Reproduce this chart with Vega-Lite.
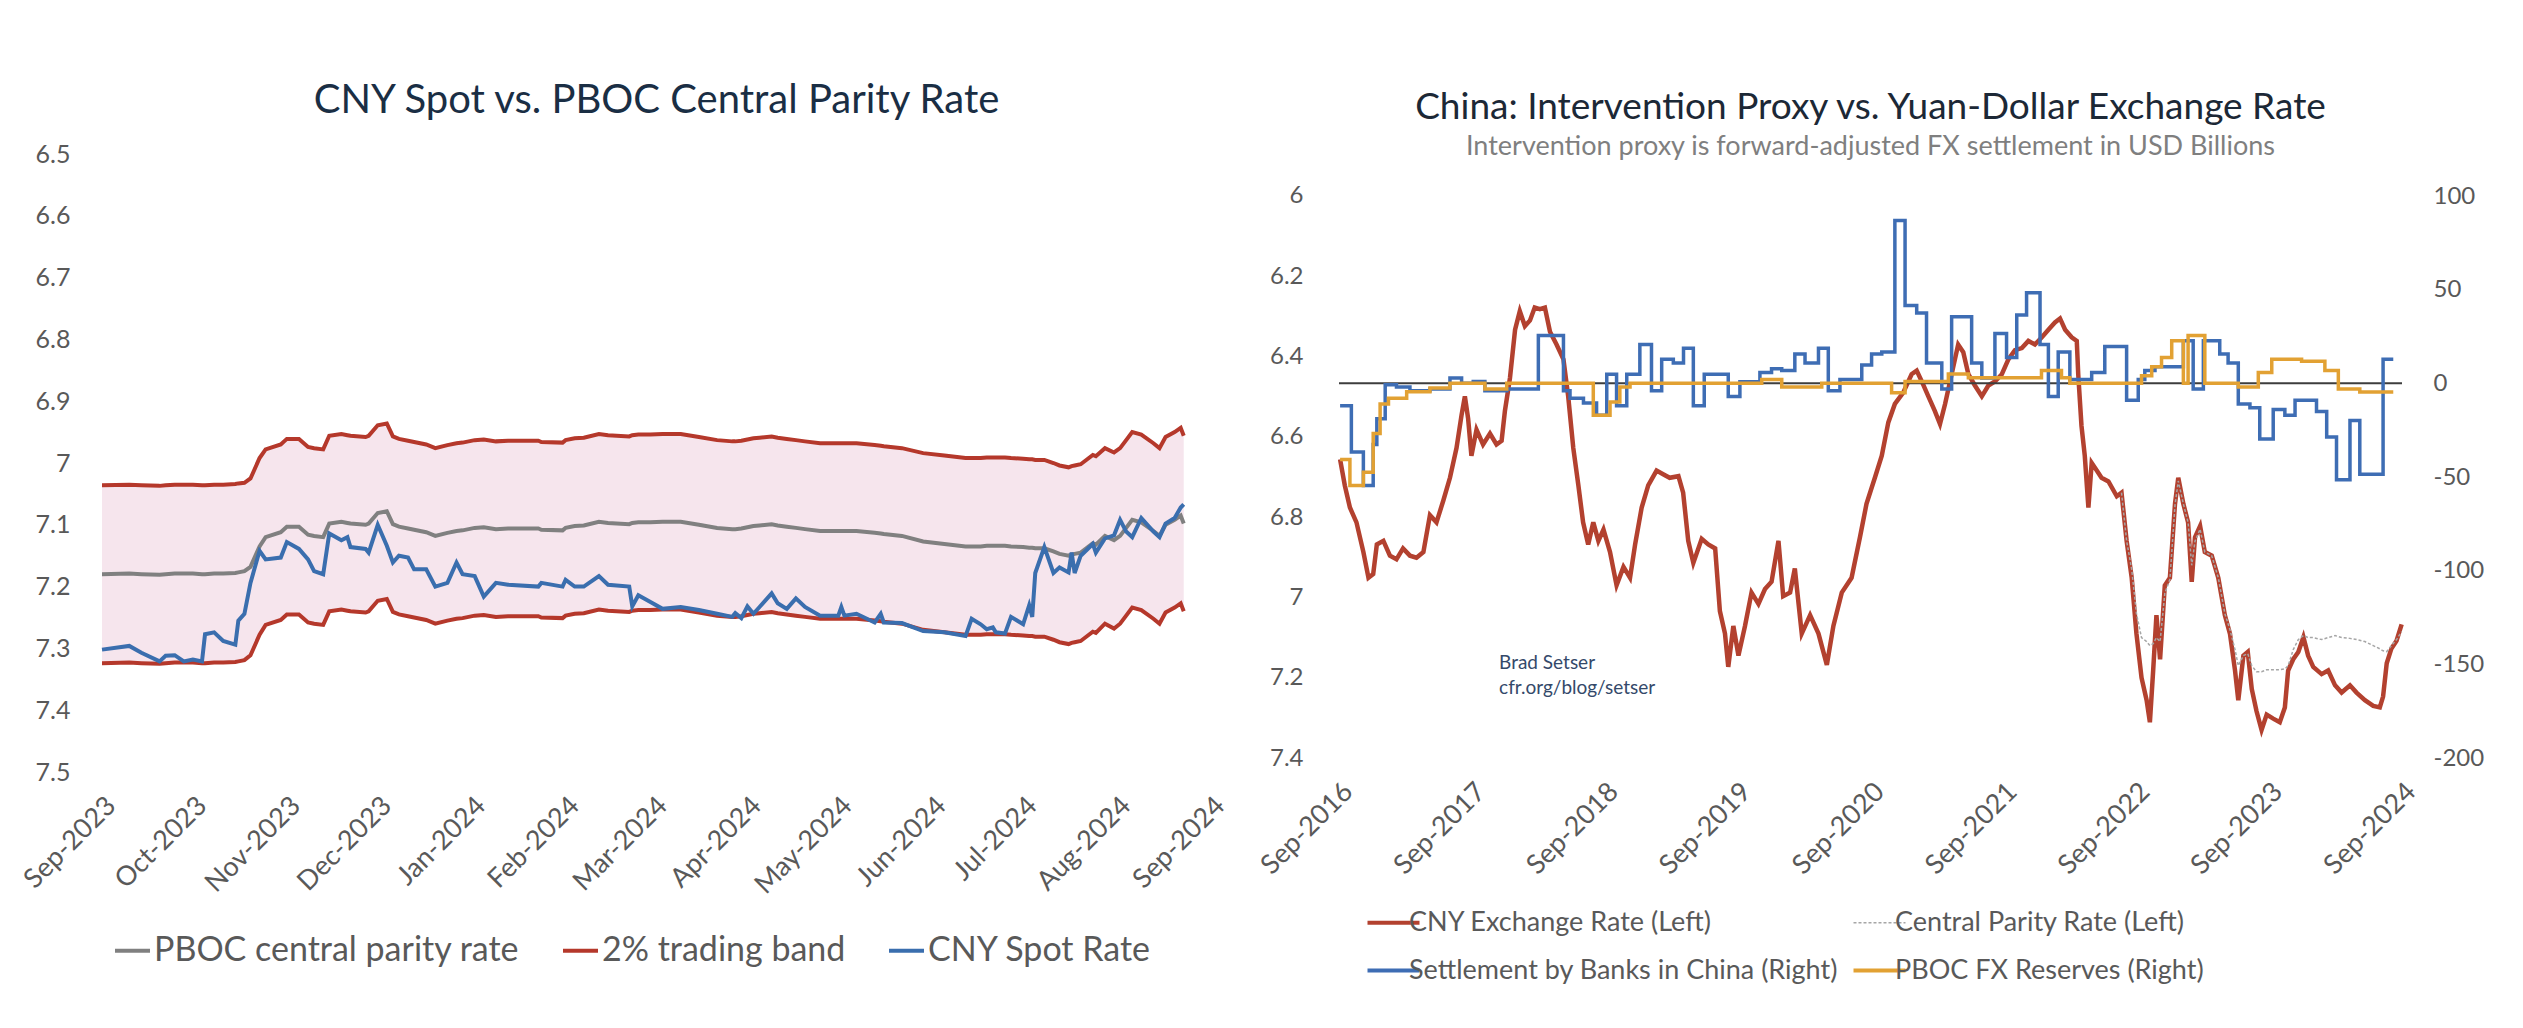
{
  "$schema": "https://vega.github.io/schema/vega-lite/v6.json",
  "background": "white",
  "padding": {"left": 18, "top": 81, "right": 10, "bottom": 10},
  "autosize": {"type": "pad"},
  "config": {
    "view": {"stroke": null},
    "font": "Lato",
    "axis": {"grid": false, "domain": false, "ticks": false, "labelFont": "Lato", "labelColor": "#595959", "titleColor": "#595959"},
    "legend": {"labelFont": "Lato", "labelColor": "#595959", "labelLimit": 0},
    "title": {"font": "Lato", "subtitleFont": "Lato", "anchor": "middle", "fontWeight": "normal"}
  },
  "spacing": 128,
  "bounds": "flush",
  "resolve": {"scale": {"color": "independent"}, "legend": {"color": "independent"}},
  "hconcat": [
    {
      "width": 1109,
      "height": 618,
      "title": {"text": "CNY Spot vs. PBOC Central Parity Rate", "fontSize": 40, "color": "#1a2e44", "offset": 21},
      "data": {"values": [
        {"date": "2023-09-01", "parity": 7.180, "spot": 7.302, "upper": 7.036, "lower": 7.324},
        {"date": "2023-09-10", "parity": 7.179, "spot": 7.296, "upper": 7.035, "lower": 7.323},
        {"date": "2023-09-14", "parity": 7.180, "spot": 7.307, "upper": 7.036, "lower": 7.324},
        {"date": "2023-09-20", "parity": 7.181, "spot": 7.321, "upper": 7.037, "lower": 7.325},
        {"date": "2023-09-22", "parity": 7.180, "spot": 7.312, "upper": 7.036, "lower": 7.324},
        {"date": "2023-09-25", "parity": 7.179, "spot": 7.311, "upper": 7.035, "lower": 7.323},
        {"date": "2023-09-28", "parity": 7.179, "spot": 7.321, "upper": 7.035, "lower": 7.323},
        {"date": "2023-10-01", "parity": 7.179, "spot": 7.318, "upper": 7.035, "lower": 7.323},
        {"date": "2023-10-04", "parity": 7.180, "spot": 7.321, "upper": 7.036, "lower": 7.324},
        {"date": "2023-10-05", "parity": 7.180, "spot": 7.277, "upper": 7.036, "lower": 7.324},
        {"date": "2023-10-08", "parity": 7.179, "spot": 7.274, "upper": 7.035, "lower": 7.323},
        {"date": "2023-10-11", "parity": 7.179, "spot": 7.288, "upper": 7.035, "lower": 7.323},
        {"date": "2023-10-15", "parity": 7.178, "spot": 7.294, "upper": 7.034, "lower": 7.322},
        {"date": "2023-10-16", "parity": 7.177, "spot": 7.255, "upper": 7.033, "lower": 7.321},
        {"date": "2023-10-18", "parity": 7.175, "spot": 7.244, "upper": 7.032, "lower": 7.319},
        {"date": "2023-10-20", "parity": 7.168, "spot": 7.194, "upper": 7.025, "lower": 7.311},
        {"date": "2023-10-23", "parity": 7.135, "spot": 7.142, "upper": 6.992, "lower": 7.278},
        {"date": "2023-10-25", "parity": 7.120, "spot": 7.156, "upper": 6.978, "lower": 7.262},
        {"date": "2023-10-30", "parity": 7.112, "spot": 7.153, "upper": 6.970, "lower": 7.254},
        {"date": "2023-11-01", "parity": 7.103, "spot": 7.128, "upper": 6.961, "lower": 7.245},
        {"date": "2023-11-05", "parity": 7.103, "spot": 7.139, "upper": 6.961, "lower": 7.245},
        {"date": "2023-11-08", "parity": 7.116, "spot": 7.156, "upper": 6.974, "lower": 7.258},
        {"date": "2023-11-10", "parity": 7.118, "spot": 7.175, "upper": 6.976, "lower": 7.260},
        {"date": "2023-11-13", "parity": 7.120, "spot": 7.180, "upper": 6.978, "lower": 7.262},
        {"date": "2023-11-15", "parity": 7.098, "spot": 7.114, "upper": 6.956, "lower": 7.240},
        {"date": "2023-11-19", "parity": 7.095, "spot": 7.125, "upper": 6.953, "lower": 7.237},
        {"date": "2023-11-21", "parity": 7.097, "spot": 7.120, "upper": 6.955, "lower": 7.239},
        {"date": "2023-11-22", "parity": 7.098, "spot": 7.136, "upper": 6.956, "lower": 7.240},
        {"date": "2023-11-27", "parity": 7.100, "spot": 7.139, "upper": 6.958, "lower": 7.242},
        {"date": "2023-11-28", "parity": 7.098, "spot": 7.145, "upper": 6.956, "lower": 7.240},
        {"date": "2023-12-01", "parity": 7.081, "spot": 7.100, "upper": 6.939, "lower": 7.223},
        {"date": "2023-12-04", "parity": 7.078, "spot": 7.134, "upper": 6.936, "lower": 7.220},
        {"date": "2023-12-06", "parity": 7.099, "spot": 7.161, "upper": 6.957, "lower": 7.241},
        {"date": "2023-12-08", "parity": 7.103, "spot": 7.150, "upper": 6.961, "lower": 7.245},
        {"date": "2023-12-11", "parity": 7.106, "spot": 7.153, "upper": 6.964, "lower": 7.248},
        {"date": "2023-12-13", "parity": 7.108, "spot": 7.172, "upper": 6.966, "lower": 7.250},
        {"date": "2023-12-17", "parity": 7.112, "spot": 7.172, "upper": 6.970, "lower": 7.254},
        {"date": "2023-12-20", "parity": 7.118, "spot": 7.200, "upper": 6.976, "lower": 7.260},
        {"date": "2023-12-24", "parity": 7.113, "spot": 7.194, "upper": 6.971, "lower": 7.255},
        {"date": "2023-12-27", "parity": 7.110, "spot": 7.161, "upper": 6.968, "lower": 7.252},
        {"date": "2023-12-29", "parity": 7.109, "spot": 7.180, "upper": 6.967, "lower": 7.251},
        {"date": "2024-01-02", "parity": 7.105, "spot": 7.183, "upper": 6.963, "lower": 7.247},
        {"date": "2024-01-05", "parity": 7.104, "spot": 7.216, "upper": 6.962, "lower": 7.246},
        {"date": "2024-01-09", "parity": 7.107, "spot": 7.194, "upper": 6.965, "lower": 7.249},
        {"date": "2024-01-13", "parity": 7.106, "spot": 7.197, "upper": 6.964, "lower": 7.248},
        {"date": "2024-01-23", "parity": 7.106, "spot": 7.200, "upper": 6.964, "lower": 7.248},
        {"date": "2024-01-24", "parity": 7.108, "spot": 7.194, "upper": 6.966, "lower": 7.250},
        {"date": "2024-01-31", "parity": 7.109, "spot": 7.200, "upper": 6.967, "lower": 7.251},
        {"date": "2024-02-01", "parity": 7.105, "spot": 7.189, "upper": 6.963, "lower": 7.247},
        {"date": "2024-02-04", "parity": 7.102, "spot": 7.200, "upper": 6.960, "lower": 7.244},
        {"date": "2024-02-07", "parity": 7.101, "spot": 7.200, "upper": 6.959, "lower": 7.243},
        {"date": "2024-02-12", "parity": 7.095, "spot": 7.183, "upper": 6.953, "lower": 7.237},
        {"date": "2024-02-15", "parity": 7.097, "spot": 7.197, "upper": 6.955, "lower": 7.239},
        {"date": "2024-02-22", "parity": 7.099, "spot": 7.200, "upper": 6.957, "lower": 7.241},
        {"date": "2024-02-23", "parity": 7.097, "spot": 7.232, "upper": 6.955, "lower": 7.239},
        {"date": "2024-02-25", "parity": 7.096, "spot": 7.214, "upper": 6.954, "lower": 7.238},
        {"date": "2024-02-29", "parity": 7.096, "spot": 7.225, "upper": 6.954, "lower": 7.238},
        {"date": "2024-03-04", "parity": 7.095, "spot": 7.236, "upper": 6.953, "lower": 7.237},
        {"date": "2024-03-10", "parity": 7.095, "spot": 7.233, "upper": 6.953, "lower": 7.237},
        {"date": "2024-03-16", "parity": 7.100, "spot": 7.238, "upper": 6.958, "lower": 7.242},
        {"date": "2024-03-22", "parity": 7.105, "spot": 7.244, "upper": 6.963, "lower": 7.247},
        {"date": "2024-03-27", "parity": 7.107, "spot": 7.249, "upper": 6.965, "lower": 7.249},
        {"date": "2024-03-28", "parity": 7.107, "spot": 7.243, "upper": 6.965, "lower": 7.249},
        {"date": "2024-03-30", "parity": 7.106, "spot": 7.251, "upper": 6.964, "lower": 7.248},
        {"date": "2024-04-01", "parity": 7.104, "spot": 7.232, "upper": 6.962, "lower": 7.246},
        {"date": "2024-04-03", "parity": 7.102, "spot": 7.244, "upper": 6.960, "lower": 7.244},
        {"date": "2024-04-05", "parity": 7.101, "spot": 7.233, "upper": 6.959, "lower": 7.243},
        {"date": "2024-04-09", "parity": 7.099, "spot": 7.211, "upper": 6.957, "lower": 7.241},
        {"date": "2024-04-11", "parity": 7.101, "spot": 7.227, "upper": 6.959, "lower": 7.243},
        {"date": "2024-04-14", "parity": 7.103, "spot": 7.236, "upper": 6.961, "lower": 7.245},
        {"date": "2024-04-17", "parity": 7.105, "spot": 7.219, "upper": 6.963, "lower": 7.247},
        {"date": "2024-04-20", "parity": 7.107, "spot": 7.233, "upper": 6.965, "lower": 7.249},
        {"date": "2024-04-25", "parity": 7.110, "spot": 7.247, "upper": 6.968, "lower": 7.252},
        {"date": "2024-05-01", "parity": 7.110, "spot": 7.247, "upper": 6.968, "lower": 7.252},
        {"date": "2024-05-02", "parity": 7.110, "spot": 7.233, "upper": 6.968, "lower": 7.252},
        {"date": "2024-05-03", "parity": 7.110, "spot": 7.247, "upper": 6.968, "lower": 7.252},
        {"date": "2024-05-07", "parity": 7.110, "spot": 7.244, "upper": 6.968, "lower": 7.252},
        {"date": "2024-05-13", "parity": 7.113, "spot": 7.258, "upper": 6.971, "lower": 7.255},
        {"date": "2024-05-15", "parity": 7.114, "spot": 7.244, "upper": 6.972, "lower": 7.256},
        {"date": "2024-05-16", "parity": 7.115, "spot": 7.258, "upper": 6.973, "lower": 7.257},
        {"date": "2024-05-22", "parity": 7.118, "spot": 7.259, "upper": 6.976, "lower": 7.260},
        {"date": "2024-05-29", "parity": 7.127, "spot": 7.272, "upper": 6.984, "lower": 7.270},
        {"date": "2024-06-05", "parity": 7.131, "spot": 7.274, "upper": 6.988, "lower": 7.274},
        {"date": "2024-06-12", "parity": 7.135, "spot": 7.280, "upper": 6.992, "lower": 7.278},
        {"date": "2024-06-14", "parity": 7.135, "spot": 7.252, "upper": 6.992, "lower": 7.278},
        {"date": "2024-06-17", "parity": 7.135, "spot": 7.261, "upper": 6.992, "lower": 7.278},
        {"date": "2024-06-19", "parity": 7.134, "spot": 7.269, "upper": 6.991, "lower": 7.277},
        {"date": "2024-06-21", "parity": 7.134, "spot": 7.266, "upper": 6.991, "lower": 7.277},
        {"date": "2024-06-22", "parity": 7.134, "spot": 7.274, "upper": 6.991, "lower": 7.277},
        {"date": "2024-06-25", "parity": 7.134, "spot": 7.276, "upper": 6.991, "lower": 7.277},
        {"date": "2024-06-27", "parity": 7.135, "spot": 7.249, "upper": 6.992, "lower": 7.278},
        {"date": "2024-07-01", "parity": 7.136, "spot": 7.261, "upper": 6.993, "lower": 7.279},
        {"date": "2024-07-03", "parity": 7.137, "spot": 7.230, "upper": 6.994, "lower": 7.280},
        {"date": "2024-07-04", "parity": 7.137, "spot": 7.249, "upper": 6.994, "lower": 7.280},
        {"date": "2024-07-05", "parity": 7.138, "spot": 7.178, "upper": 6.995, "lower": 7.281},
        {"date": "2024-07-08", "parity": 7.138, "spot": 7.136, "upper": 6.995, "lower": 7.281},
        {"date": "2024-07-11", "parity": 7.143, "spot": 7.178, "upper": 7.000, "lower": 7.286},
        {"date": "2024-07-13", "parity": 7.147, "spot": 7.169, "upper": 7.004, "lower": 7.290},
        {"date": "2024-07-16", "parity": 7.150, "spot": 7.177, "upper": 7.007, "lower": 7.293},
        {"date": "2024-07-17", "parity": 7.148, "spot": 7.145, "upper": 7.005, "lower": 7.291},
        {"date": "2024-07-18", "parity": 7.147, "spot": 7.178, "upper": 7.004, "lower": 7.290},
        {"date": "2024-07-20", "parity": 7.145, "spot": 7.150, "upper": 7.002, "lower": 7.288},
        {"date": "2024-07-24", "parity": 7.130, "spot": 7.131, "upper": 6.987, "lower": 7.273},
        {"date": "2024-07-25", "parity": 7.132, "spot": 7.145, "upper": 6.989, "lower": 7.275},
        {"date": "2024-07-28", "parity": 7.118, "spot": 7.122, "upper": 6.976, "lower": 7.260},
        {"date": "2024-07-31", "parity": 7.125, "spot": 7.117, "upper": 6.983, "lower": 7.268},
        {"date": "2024-08-02", "parity": 7.118, "spot": 7.092, "upper": 6.976, "lower": 7.260},
        {"date": "2024-08-04", "parity": 7.105, "spot": 7.111, "upper": 6.963, "lower": 7.247},
        {"date": "2024-08-06", "parity": 7.092, "spot": 7.120, "upper": 6.950, "lower": 7.234},
        {"date": "2024-08-09", "parity": 7.096, "spot": 7.089, "upper": 6.954, "lower": 7.238},
        {"date": "2024-08-13", "parity": 7.110, "spot": 7.111, "upper": 6.968, "lower": 7.252},
        {"date": "2024-08-15", "parity": 7.118, "spot": 7.120, "upper": 6.976, "lower": 7.260},
        {"date": "2024-08-17", "parity": 7.100, "spot": 7.098, "upper": 6.958, "lower": 7.242},
        {"date": "2024-08-20", "parity": 7.092, "spot": 7.089, "upper": 6.950, "lower": 7.234},
        {"date": "2024-08-22", "parity": 7.085, "spot": 7.072, "upper": 6.943, "lower": 7.227},
        {"date": "2024-08-23", "parity": 7.098, "spot": 7.067, "upper": 6.956, "lower": 7.240}
      ]},
      "encoding": {
        "x": {
          "field": "date", "type": "temporal",
          "scale": {"domain": [{"year": 2023, "month": 9, "date": 1}, {"year": 2024, "month": 9, "date": 1}]},
          "axis": {"title": null, "format": "%b-%Y", "labelAngle": -45, "labelAlign": "right", "labelBaseline": "top", "labelFontSize": 27, "labelPadding": 20, "tickCount": {"interval": "month", "step": 1}, "labelOverlap": false, "labelBound": false, "labelFlush": false}
        }
      },
      "layer": [
        {
          "mark": {"type": "area", "color": "#f6e5ed"},
          "encoding": {
            "y": {"field": "upper", "type": "quantitative", "scale": {"domain": [6.5, 7.5], "reverse": true, "nice": false, "zero": false},
              "axis": {"title": null, "values": [6.5, 6.6, 6.7, 6.8, 6.9, 7.0, 7.1, 7.2, 7.3, 7.4, 7.5], "format": ".1~f", "labelFontSize": 25, "labelPadding": 32}},
            "y2": {"field": "lower"}
          }
        },
        {
          "mark": {"type": "line", "strokeWidth": 4},
          "encoding": {
            "y": {"field": "parity", "type": "quantitative", "axis": {"title": null}},
            "color": {"datum": "PBOC central parity rate",
              "scale": {"domain": ["PBOC central parity rate", "2% trading band", "CNY Spot Rate"], "range": ["#808080", "#b5382b", "#3a6eae"]},
              "legend": {"title": null, "orient": "none", "legendX": 11, "legendY": 777, "direction": "horizontal", "symbolType": "stroke", "symbolSize": 1225, "symbolStrokeWidth": 4, "labelFontSize": 34, "labelOffset": 2, "columnPadding": 35, "padding": 0, "labelLimit": 0}}
          }
        },
        {
          "mark": {"type": "line", "strokeWidth": 4},
          "encoding": {
            "y": {"field": "upper", "type": "quantitative", "axis": {"title": null}},
            "color": {"datum": "2% trading band"}
          }
        },
        {
          "mark": {"type": "line", "strokeWidth": 4},
          "encoding": {
            "y": {"field": "lower", "type": "quantitative", "axis": {"title": null}},
            "color": {"datum": "2% trading band"}
          }
        },
        {
          "mark": {"type": "line", "strokeWidth": 4},
          "encoding": {
            "y": {"field": "spot", "type": "quantitative", "axis": {"title": null}},
            "color": {"datum": "CNY Spot Rate"}
          }
        }
      ]
    },
    {
      "width": 1063,
      "height": 604,
      "title": {"text": "China: Intervention Proxy vs. Yuan-Dollar Exchange Rate", "subtitle": "Intervention proxy is forward-adjusted FX settlement in USD Billions", "fontSize": 37, "subtitleFontSize": 27, "color": "#1c2836", "subtitleColor": "#7f7f7f", "subtitlePadding": 7, "offset": -7},
      "layer": [
        {
          "layer": [
            {
              "data": {"values": [
                {"date": "2016-09-04", "rate": 6.656}, {"date": "2016-09-17", "rate": 6.721}, {"date": "2016-10-01", "rate": 6.776}, {"date": "2016-10-19", "rate": 6.813},
                {"date": "2016-11-07", "rate": 6.887}, {"date": "2016-11-21", "rate": 6.951}, {"date": "2016-12-04", "rate": 6.942}, {"date": "2016-12-14", "rate": 6.868},
                {"date": "2017-01-01", "rate": 6.859}, {"date": "2017-01-19", "rate": 6.896}, {"date": "2017-02-06", "rate": 6.905}, {"date": "2017-02-24", "rate": 6.878},
                {"date": "2017-03-15", "rate": 6.896}, {"date": "2017-04-02", "rate": 6.901}, {"date": "2017-04-21", "rate": 6.887}, {"date": "2017-05-09", "rate": 6.795},
                {"date": "2017-05-27", "rate": 6.813}, {"date": "2017-06-15", "rate": 6.758}, {"date": "2017-07-03", "rate": 6.702}, {"date": "2017-07-21", "rate": 6.628},
                {"date": "2017-08-04", "rate": 6.545}, {"date": "2017-08-13", "rate": 6.499}, {"date": "2017-08-22", "rate": 6.555}, {"date": "2017-08-31", "rate": 6.647},
                {"date": "2017-09-14", "rate": 6.582}, {"date": "2017-10-02", "rate": 6.619}, {"date": "2017-10-21", "rate": 6.592}, {"date": "2017-11-08", "rate": 6.619},
                {"date": "2017-11-22", "rate": 6.610}, {"date": "2017-12-01", "rate": 6.536}, {"date": "2017-12-15", "rate": 6.453}, {"date": "2017-12-29", "rate": 6.333},
                {"date": "2018-01-11", "rate": 6.287}, {"date": "2018-01-25", "rate": 6.324}, {"date": "2018-02-08", "rate": 6.310}, {"date": "2018-02-21", "rate": 6.278},
                {"date": "2018-03-07", "rate": 6.282}, {"date": "2018-03-21", "rate": 6.278}, {"date": "2018-04-04", "rate": 6.338}, {"date": "2018-04-22", "rate": 6.370},
                {"date": "2018-05-11", "rate": 6.407}, {"date": "2018-05-24", "rate": 6.499}, {"date": "2018-06-07", "rate": 6.628}, {"date": "2018-06-21", "rate": 6.721},
                {"date": "2018-07-04", "rate": 6.813}, {"date": "2018-07-18", "rate": 6.868}, {"date": "2018-08-01", "rate": 6.813}, {"date": "2018-08-15", "rate": 6.859},
                {"date": "2018-08-29", "rate": 6.831}, {"date": "2018-09-16", "rate": 6.887}, {"date": "2018-10-04", "rate": 6.970}, {"date": "2018-10-23", "rate": 6.924},
                {"date": "2018-11-10", "rate": 6.951}, {"date": "2018-11-24", "rate": 6.868}, {"date": "2018-12-12", "rate": 6.776}, {"date": "2018-12-30", "rate": 6.721},
                {"date": "2019-01-22", "rate": 6.684}, {"date": "2019-02-09", "rate": 6.693}, {"date": "2019-02-27", "rate": 6.702}, {"date": "2019-03-23", "rate": 6.698},
                {"date": "2019-04-05", "rate": 6.739}, {"date": "2019-04-19", "rate": 6.859}, {"date": "2019-05-03", "rate": 6.914}, {"date": "2019-05-26", "rate": 6.854},
                {"date": "2019-06-13", "rate": 6.868}, {"date": "2019-07-02", "rate": 6.878}, {"date": "2019-07-15", "rate": 7.034}, {"date": "2019-07-29", "rate": 7.090},
                {"date": "2019-08-07", "rate": 7.173}, {"date": "2019-08-21", "rate": 7.071}, {"date": "2019-09-04", "rate": 7.145}, {"date": "2019-09-22", "rate": 7.071},
                {"date": "2019-10-10", "rate": 6.988}, {"date": "2019-10-29", "rate": 7.016}, {"date": "2019-11-16", "rate": 6.979}, {"date": "2019-12-04", "rate": 6.961},
                {"date": "2019-12-23", "rate": 6.859}, {"date": "2020-01-05", "rate": 6.997}, {"date": "2020-01-24", "rate": 6.988}, {"date": "2020-02-06", "rate": 6.928},
                {"date": "2020-02-25", "rate": 7.090}, {"date": "2020-03-19", "rate": 7.044}, {"date": "2020-04-11", "rate": 7.090}, {"date": "2020-05-04", "rate": 7.168},
                {"date": "2020-05-22", "rate": 7.071}, {"date": "2020-06-14", "rate": 6.988}, {"date": "2020-07-11", "rate": 6.951}, {"date": "2020-08-03", "rate": 6.850},
                {"date": "2020-08-21", "rate": 6.767}, {"date": "2020-09-13", "rate": 6.702}, {"date": "2020-10-02", "rate": 6.647}, {"date": "2020-10-20", "rate": 6.564},
                {"date": "2020-11-07", "rate": 6.518}, {"date": "2020-11-30", "rate": 6.490}, {"date": "2020-12-23", "rate": 6.444}, {"date": "2021-01-06", "rate": 6.435},
                {"date": "2021-01-20", "rate": 6.462}, {"date": "2021-02-07", "rate": 6.499}, {"date": "2021-02-25", "rate": 6.536}, {"date": "2021-03-11", "rate": 6.568},
                {"date": "2021-03-25", "rate": 6.518}, {"date": "2021-04-12", "rate": 6.444}, {"date": "2021-04-30", "rate": 6.370}, {"date": "2021-05-14", "rate": 6.389},
                {"date": "2021-05-28", "rate": 6.444}, {"date": "2021-06-15", "rate": 6.472}, {"date": "2021-07-04", "rate": 6.499}, {"date": "2021-07-22", "rate": 6.472},
                {"date": "2021-08-09", "rate": 6.462}, {"date": "2021-08-28", "rate": 6.444}, {"date": "2021-09-15", "rate": 6.407}, {"date": "2021-10-03", "rate": 6.384},
                {"date": "2021-10-22", "rate": 6.379}, {"date": "2021-11-09", "rate": 6.361}, {"date": "2021-11-27", "rate": 6.370}, {"date": "2021-12-16", "rate": 6.352},
                {"date": "2022-01-03", "rate": 6.333}, {"date": "2022-01-21", "rate": 6.315}, {"date": "2022-02-04", "rate": 6.305}, {"date": "2022-02-18", "rate": 6.333},
                {"date": "2022-03-08", "rate": 6.352}, {"date": "2022-03-22", "rate": 6.361}, {"date": "2022-03-26", "rate": 6.444}, {"date": "2022-04-04", "rate": 6.573},
                {"date": "2022-04-13", "rate": 6.647}, {"date": "2022-04-23", "rate": 6.776}, {"date": "2022-05-02", "rate": 6.665}, {"date": "2022-05-16", "rate": 6.684},
                {"date": "2022-05-29", "rate": 6.702}, {"date": "2022-06-17", "rate": 6.711}, {"date": "2022-07-10", "rate": 6.748}, {"date": "2022-07-23", "rate": 6.739},
                {"date": "2022-08-06", "rate": 6.859}, {"date": "2022-08-20", "rate": 6.951}, {"date": "2022-09-02", "rate": 7.090}, {"date": "2022-09-16", "rate": 7.200},
                {"date": "2022-09-30", "rate": 7.256}, {"date": "2022-10-09", "rate": 7.311}, {"date": "2022-10-18", "rate": 7.182}, {"date": "2022-10-27", "rate": 7.044},
                {"date": "2022-11-06", "rate": 7.154}, {"date": "2022-11-19", "rate": 6.970}, {"date": "2022-12-03", "rate": 6.951}, {"date": "2022-12-17", "rate": 6.767},
                {"date": "2022-12-26", "rate": 6.702}, {"date": "2023-01-09", "rate": 6.767}, {"date": "2023-01-22", "rate": 6.813}, {"date": "2023-02-01", "rate": 6.961},
                {"date": "2023-02-10", "rate": 6.850}, {"date": "2023-02-24", "rate": 6.822}, {"date": "2023-03-09", "rate": 6.887}, {"date": "2023-03-28", "rate": 6.896},
                {"date": "2023-04-15", "rate": 6.951}, {"date": "2023-05-03", "rate": 7.044}, {"date": "2023-05-17", "rate": 7.090}, {"date": "2023-05-31", "rate": 7.182},
                {"date": "2023-06-09", "rate": 7.256}, {"date": "2023-06-23", "rate": 7.145}, {"date": "2023-07-05", "rate": 7.136}, {"date": "2023-07-16", "rate": 7.228},
                {"date": "2023-07-29", "rate": 7.283}, {"date": "2023-08-12", "rate": 7.330}, {"date": "2023-08-26", "rate": 7.292}, {"date": "2023-09-13", "rate": 7.302},
                {"date": "2023-10-01", "rate": 7.311}, {"date": "2023-10-15", "rate": 7.274}, {"date": "2023-10-24", "rate": 7.182}, {"date": "2023-11-07", "rate": 7.154},
                {"date": "2023-11-21", "rate": 7.136}, {"date": "2023-12-05", "rate": 7.099}, {"date": "2023-12-18", "rate": 7.145}, {"date": "2024-01-01", "rate": 7.173},
                {"date": "2024-01-24", "rate": 7.191}, {"date": "2024-02-11", "rate": 7.182}, {"date": "2024-03-01", "rate": 7.219}, {"date": "2024-03-19", "rate": 7.237},
                {"date": "2024-04-11", "rate": 7.219}, {"date": "2024-04-29", "rate": 7.237}, {"date": "2024-05-22", "rate": 7.256}, {"date": "2024-06-14", "rate": 7.270},
                {"date": "2024-07-02", "rate": 7.274}, {"date": "2024-07-11", "rate": 7.247}, {"date": "2024-07-21", "rate": 7.164}, {"date": "2024-08-03", "rate": 7.127},
                {"date": "2024-08-17", "rate": 7.108}, {"date": "2024-08-31", "rate": 7.067}
              ]},
              "mark": {"type": "line", "strokeWidth": 4.5},
              "encoding": {
                "x": {"field": "date", "type": "temporal",
                  "scale": {"domain": [{"year": 2016, "month": 9, "date": 1}, {"year": 2024, "month": 9, "date": 1}]},
                  "axis": {"title": null, "format": "%b-%Y", "labelAngle": -45, "labelAlign": "right", "labelBaseline": "top", "labelFontSize": 27, "labelPadding": 20,
                    "values": [{"year": 2016, "month": 9, "date": 1}, {"year": 2017, "month": 9, "date": 1}, {"year": 2018, "month": 9, "date": 1}, {"year": 2019, "month": 9, "date": 1}, {"year": 2020, "month": 9, "date": 1}, {"year": 2021, "month": 9, "date": 1}, {"year": 2022, "month": 9, "date": 1}, {"year": 2023, "month": 9, "date": 1}, {"year": 2024, "month": 9, "date": 1}],
                    "labelOverlap": false, "labelBound": false, "labelFlush": false}},
                "y": {"field": "rate", "type": "quantitative", "scale": {"domain": [5.8954, 7.4], "reverse": true, "nice": false, "zero": false},
                  "axis": {"title": null, "orient": "left", "values": [6, 6.2, 6.4, 6.6, 6.8, 7, 7.2, 7.4], "format": ".1~f", "labelFontSize": 24, "labelPadding": 36}},
                "color": {"datum": "CNY Exchange Rate (Left)",
                  "scale": {"domain": ["CNY Exchange Rate (Left)", "Central Parity Rate (Left)", "Settlement by Banks in China (Right)", "PBOC FX Reserves (Right)"], "range": ["#b3412f", "#a6a6a6", "#3e6db4", "#e2a133"]},
                  "legend": {"title": null, "orient": "none", "legendX": 41, "legendY": 755, "direction": "horizontal", "columns": 2, "rowPadding": 20, "columnPadding": 6, "symbolType": "stroke", "symbolSize": 2704, "symbolStrokeWidth": 4, "labelFontSize": 27, "labelOffset": 2, "padding": 0, "labelLimit": 0,
                    "encode": {"symbols": {"update": {"strokeDash": {"signal": "datum.label == 'Central Parity Rate (Left)' ? [3, 2] : [1, 0]"}, "strokeWidth": {"signal": "datum.label == 'Central Parity Rate (Left)' ? 1.5 : 4"}}}}}}
              }
            },
            {
              "data": {"values": [
                {"date": "2022-07-23", "rate": 6.739}, {"date": "2022-08-06", "rate": 6.859}, {"date": "2022-08-20", "rate": 6.930}, {"date": "2022-09-02", "rate": 7.040},
                {"date": "2022-09-16", "rate": 7.100}, {"date": "2022-09-30", "rate": 7.110}, {"date": "2022-10-09", "rate": 7.120}, {"date": "2022-10-18", "rate": 7.115},
                {"date": "2022-10-27", "rate": 7.100}, {"date": "2022-11-06", "rate": 7.110}, {"date": "2022-11-19", "rate": 6.990}, {"date": "2022-12-03", "rate": 6.955},
                {"date": "2022-12-17", "rate": 6.770}, {"date": "2022-12-26", "rate": 6.710}, {"date": "2023-01-09", "rate": 6.767}, {"date": "2023-01-22", "rate": 6.813},
                {"date": "2023-02-01", "rate": 6.920}, {"date": "2023-02-10", "rate": 6.860}, {"date": "2023-02-24", "rate": 6.830}, {"date": "2023-03-09", "rate": 6.887},
                {"date": "2023-03-28", "rate": 6.896}, {"date": "2023-04-15", "rate": 6.951}, {"date": "2023-05-03", "rate": 7.040}, {"date": "2023-05-17", "rate": 7.080},
                {"date": "2023-05-31", "rate": 7.130}, {"date": "2023-06-09", "rate": 7.170}, {"date": "2023-06-23", "rate": 7.145}, {"date": "2023-07-05", "rate": 7.140},
                {"date": "2023-07-16", "rate": 7.170}, {"date": "2023-07-29", "rate": 7.185}, {"date": "2023-08-12", "rate": 7.185}, {"date": "2023-08-26", "rate": 7.180},
                {"date": "2023-09-13", "rate": 7.180}, {"date": "2023-10-01", "rate": 7.180}, {"date": "2023-10-15", "rate": 7.178}, {"date": "2023-10-24", "rate": 7.170},
                {"date": "2023-11-07", "rate": 7.130}, {"date": "2023-11-21", "rate": 7.105}, {"date": "2023-12-05", "rate": 7.095}, {"date": "2023-12-18", "rate": 7.100},
                {"date": "2024-01-01", "rate": 7.100}, {"date": "2024-01-24", "rate": 7.105}, {"date": "2024-02-11", "rate": 7.100}, {"date": "2024-03-01", "rate": 7.095},
                {"date": "2024-03-19", "rate": 7.100}, {"date": "2024-04-11", "rate": 7.102}, {"date": "2024-04-29", "rate": 7.105}, {"date": "2024-05-22", "rate": 7.110},
                {"date": "2024-06-14", "rate": 7.120}, {"date": "2024-07-02", "rate": 7.128}, {"date": "2024-07-11", "rate": 7.133}, {"date": "2024-07-21", "rate": 7.135},
                {"date": "2024-08-03", "rate": 7.120}, {"date": "2024-08-17", "rate": 7.105}, {"date": "2024-08-31", "rate": 7.085}
              ]},
              "mark": {"type": "line", "strokeWidth": 1.5, "strokeDash": [3, 2]},
              "encoding": {
                "x": {"field": "date", "type": "temporal"},
                "y": {"field": "rate", "type": "quantitative", "axis": {"title": null}},
                "color": {"datum": "Central Parity Rate (Left)"}
              }
            },
            {
              "data": {"values": [
                {"date": "2017-11-15", "v": 7.163, "note": "Brad Setser"},
                {"date": "2017-11-15", "v": 7.226, "note": "cfr.org/blog/setser"}
              ]},
              "mark": {"type": "text", "align": "left", "baseline": "middle", "fontSize": 19, "font": "Lato", "color": "#34496a"},
              "encoding": {
                "x": {"field": "date", "type": "temporal"},
                "y": {"field": "v", "type": "quantitative", "axis": {"title": null}},
                "text": {"field": "note"}
              }
            }
          ]
        },
        {
          "layer": [
            {
              "data": {"values": [{"level": 0}]},
              "mark": {"type": "rule", "color": "#3d3d3d", "strokeWidth": 2},
              "encoding": {
                "y": {"field": "level", "type": "quantitative", "scale": {"domain": [-200, 122.42], "nice": false, "zero": false},
                  "axis": {"title": null, "orient": "right", "values": [-200, -150, -100, -50, 0, 50, 100], "labelExpr": "replace(datum.label, '\u2212', '-')", "labelFontSize": 24, "labelPadding": 31}}
              }
            },
            {
              "data": {"values": [
                {"date": "2016-09-04", "v": -12}, {"date": "2016-10-05", "v": -36.7}, {"date": "2016-11-07", "v": -54.5}, {"date": "2016-12-04", "v": -32.7},
                {"date": "2016-12-14", "v": -18.9}, {"date": "2017-01-06", "v": -0.7}, {"date": "2017-02-06", "v": -2}, {"date": "2017-03-15", "v": -4},
                {"date": "2017-05-09", "v": -3}, {"date": "2017-07-03", "v": 2.9}, {"date": "2017-08-04", "v": 0}, {"date": "2017-09-05", "v": 1},
                {"date": "2017-10-07", "v": -4}, {"date": "2017-12-06", "v": -3}, {"date": "2018-02-08", "v": -3}, {"date": "2018-03-03", "v": 25.6},
                {"date": "2018-05-11", "v": -4}, {"date": "2018-05-29", "v": -8}, {"date": "2018-07-05", "v": -10.5}, {"date": "2018-08-10", "v": -17},
                {"date": "2018-09-07", "v": 4.9}, {"date": "2018-10-04", "v": -12}, {"date": "2018-11-01", "v": 4.9}, {"date": "2018-12-07", "v": 20.7},
                {"date": "2019-01-08", "v": -4}, {"date": "2019-02-05", "v": 12.8}, {"date": "2019-03-09", "v": 10.8}, {"date": "2019-04-06", "v": 18.7},
                {"date": "2019-05-03", "v": -12}, {"date": "2019-06-02", "v": 4.9}, {"date": "2019-08-07", "v": -7}, {"date": "2019-09-08", "v": 0.9},
                {"date": "2019-11-02", "v": 5.8}, {"date": "2019-12-04", "v": 7.8}, {"date": "2020-01-01", "v": 6.8}, {"date": "2020-02-06", "v": 15.7},
                {"date": "2020-03-05", "v": 10.8}, {"date": "2020-04-11", "v": 18.7}, {"date": "2020-05-08", "v": -4}, {"date": "2020-06-09", "v": 2},
                {"date": "2020-08-08", "v": 9.8}, {"date": "2020-09-04", "v": 15.7}, {"date": "2020-10-02", "v": 16.7}, {"date": "2020-11-07", "v": 86.9},
                {"date": "2020-12-05", "v": 41.5}, {"date": "2021-01-06", "v": 37.5}, {"date": "2021-02-02", "v": 10.8}, {"date": "2021-03-16", "v": -3},
                {"date": "2021-04-12", "v": 35.5}, {"date": "2021-06-06", "v": 10.8}, {"date": "2021-07-04", "v": 2.9}, {"date": "2021-08-09", "v": 26.6},
                {"date": "2021-09-10", "v": 13.8}, {"date": "2021-10-08", "v": 36.5}, {"date": "2021-11-04", "v": 48.4}, {"date": "2021-12-11", "v": 20.7},
                {"date": "2022-01-03", "v": -7}, {"date": "2022-01-30", "v": 16.7}, {"date": "2022-03-03", "v": 2}, {"date": "2022-05-02", "v": 5.8},
                {"date": "2022-06-07", "v": 19.7}, {"date": "2022-08-06", "v": -9}, {"date": "2022-09-07", "v": 2}, {"date": "2022-09-25", "v": 6.8},
                {"date": "2022-10-23", "v": 8.8}, {"date": "2023-01-09", "v": 22.7}, {"date": "2023-02-05", "v": -3}, {"date": "2023-03-05", "v": 22.7},
                {"date": "2023-04-19", "v": 15.7}, {"date": "2023-05-12", "v": 10.8}, {"date": "2023-06-09", "v": -11}, {"date": "2023-07-11", "v": -13},
                {"date": "2023-08-07", "v": -29.7}, {"date": "2023-09-13", "v": -14}, {"date": "2023-10-15", "v": -17}, {"date": "2023-11-12", "v": -9},
                {"date": "2024-01-10", "v": -15}, {"date": "2024-02-07", "v": -28.7}, {"date": "2024-03-05", "v": -51.5}, {"date": "2024-04-11", "v": -19.9},
                {"date": "2024-05-08", "v": -48.5}, {"date": "2024-07-11", "v": 12.8}, {"date": "2024-08-08", "v": 12.8}
              ]},
              "mark": {"type": "line", "strokeWidth": 3.5, "interpolate": "step-after"},
              "encoding": {
                "x": {"field": "date", "type": "temporal"},
                "y": {"field": "v", "type": "quantitative", "axis": {"title": null}},
                "color": {"datum": "Settlement by Banks in China (Right)"}
              }
            },
            {
              "data": {"values": [
                {"date": "2016-09-04", "v": -40.6}, {"date": "2016-10-01", "v": -54.5}, {"date": "2016-11-07", "v": -47.5}, {"date": "2016-12-04", "v": -26.8},
                {"date": "2016-12-23", "v": -11}, {"date": "2017-01-15", "v": -8}, {"date": "2017-03-06", "v": -4.5}, {"date": "2017-05-09", "v": -2.5},
                {"date": "2017-07-03", "v": 0}, {"date": "2017-10-07", "v": -3}, {"date": "2017-12-06", "v": 0}, {"date": "2018-08-01", "v": -17},
                {"date": "2018-09-16", "v": -10}, {"date": "2018-10-13", "v": -2}, {"date": "2018-11-10", "v": 0}, {"date": "2019-11-07", "v": 2},
                {"date": "2020-01-01", "v": -2}, {"date": "2020-04-20", "v": 0}, {"date": "2020-10-29", "v": -5}, {"date": "2020-12-05", "v": 1},
                {"date": "2021-04-03", "v": 5}, {"date": "2021-05-28", "v": 3}, {"date": "2021-12-15", "v": 6.8}, {"date": "2022-02-08", "v": 3},
                {"date": "2022-03-03", "v": 0}, {"date": "2022-09-16", "v": 4}, {"date": "2022-10-14", "v": 8.8}, {"date": "2022-11-10", "v": 13.8},
                {"date": "2022-12-08", "v": 22.7}, {"date": "2023-01-09", "v": 0}, {"date": "2023-01-22", "v": 25.6}, {"date": "2023-03-09", "v": 0},
                {"date": "2023-06-09", "v": -2}, {"date": "2023-08-03", "v": 5.8}, {"date": "2023-09-09", "v": 12.8}, {"date": "2023-11-30", "v": 11.8},
                {"date": "2024-02-02", "v": 6.8}, {"date": "2024-03-10", "v": -3}, {"date": "2024-05-08", "v": -4.6}, {"date": "2024-08-08", "v": -4.6}
              ]},
              "mark": {"type": "line", "strokeWidth": 3.5, "interpolate": "step-after"},
              "encoding": {
                "x": {"field": "date", "type": "temporal"},
                "y": {"field": "v", "type": "quantitative", "axis": {"title": null}},
                "color": {"datum": "PBOC FX Reserves (Right)"}
              }
            }
          ]
        }
      ],
      "resolve": {"scale": {"y": "independent"}}
    }
  ]
}
